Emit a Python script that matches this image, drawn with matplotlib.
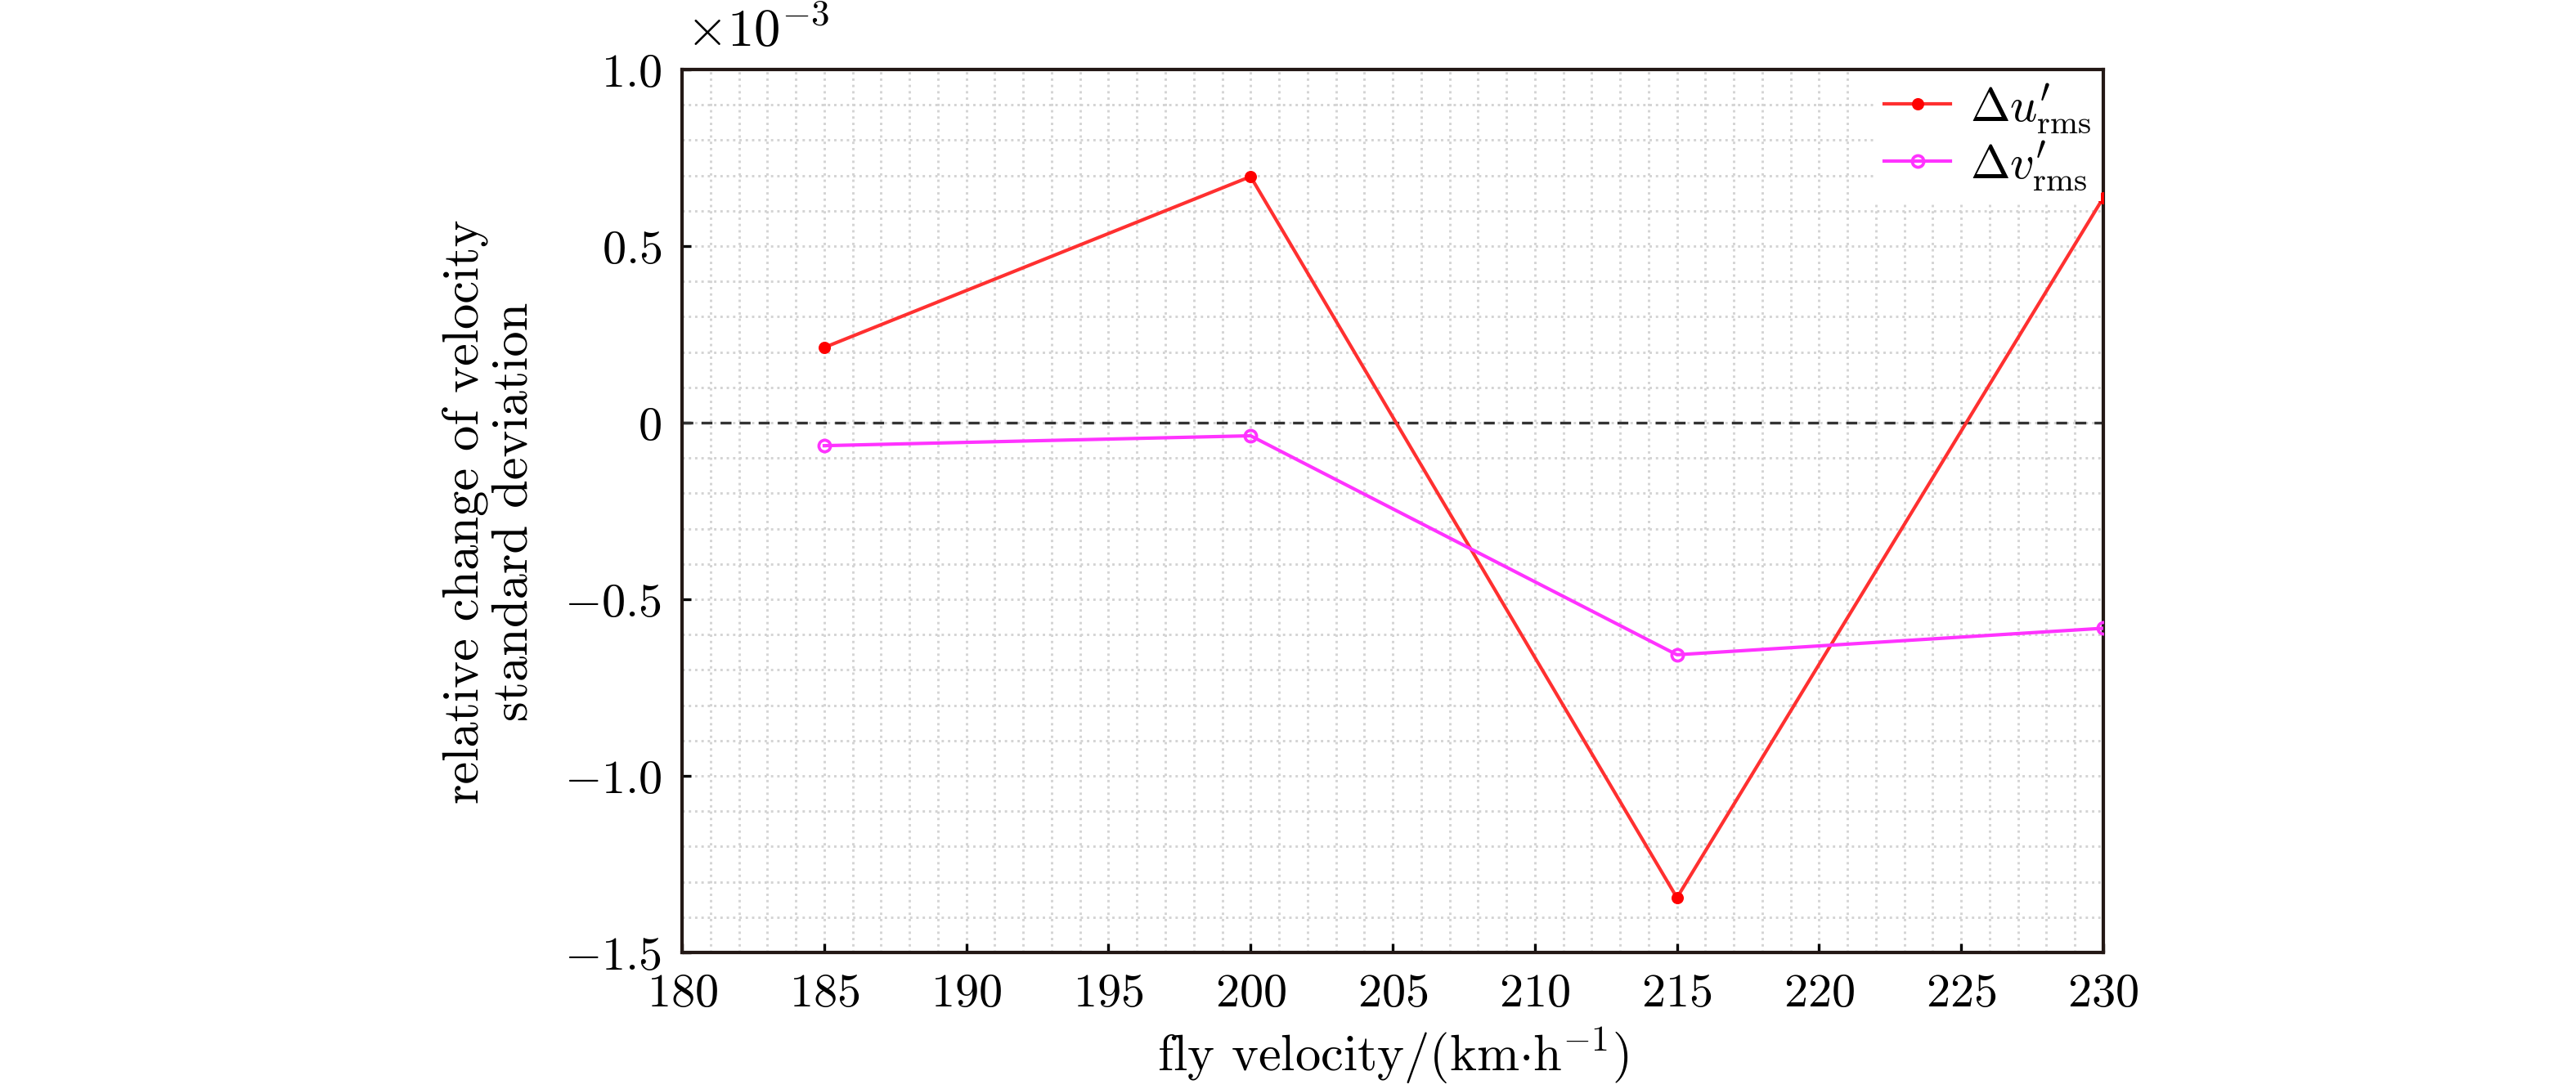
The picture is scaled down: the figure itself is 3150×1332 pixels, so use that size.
import numpy as np
import matplotlib
matplotlib.use("Agg")
import matplotlib.pyplot as plt
from matplotlib.ticker import MultipleLocator, FixedLocator, FixedFormatter

plt.rcParams['font.family'] = 'serif'
plt.rcParams['font.serif'] = ['cmr10', 'DejaVu Serif']
plt.rcParams['mathtext.fontset'] = 'cm'
plt.rcParams['axes.unicode_minus'] = False

# data (values in units of 1e-3)
fly_velocity = [185, 200, 215, 230]
du_rms = [0.213, 0.697, -1.345, 0.637]
dv_rms = [-0.065, -0.037, -0.657, -0.582]

x_ticks = [180, 185, 190, 195, 200, 205, 210, 215, 220, 225, 230]
y_ticks = [-1.5, -1.0, -0.5, 0.0, 0.5, 1.0]
y_tick_labels = [r'$-1.5$', r'$-1.0$', r'$-0.5$', r'$0$', r'$0.5$', r'$1.0$']

fig = plt.figure(figsize=(10.5, 4.443), dpi=300)
ax = fig.add_axes([0.2648, 0.1253, 0.8165 - 0.2648, 0.9355 - 0.1253])

# light dotted grid, every 1 km/h and every 0.1e-3
ax.xaxis.set_minor_locator(MultipleLocator(1))
ax.yaxis.set_minor_locator(MultipleLocator(0.1))
ax.grid(which='both', color='#d4d4d4', linestyle=':', linewidth=0.7)
ax.set_axisbelow(True)

ax.axhline(0, color='#333333', linewidth=0.8, dashes=(4.0, 3.0), zorder=2)

ax.plot(fly_velocity, du_rms, color='#ff3030', linewidth=1.0, marker='o',
        markersize=2.6, markerfacecolor='#ff0000', markeredgecolor='#ff0000',
        label=r'$\Delta u^{\prime}_{\mathrm{rms}}$', zorder=3)
ax.plot(fly_velocity, dv_rms, color='#ff33ff', linewidth=1.0, marker='o',
        markersize=3.4, markerfacecolor='none', markeredgecolor='#ff33ff',
        markeredgewidth=0.9, label=r'$\Delta v^{\prime}_{\mathrm{rms}}$', zorder=3)

ax.set_xlim(180, 230)
ax.set_ylim(-1.5, 1.0)
ax.xaxis.set_major_locator(FixedLocator(x_ticks))
ax.yaxis.set_major_locator(FixedLocator(y_ticks))
ax.yaxis.set_major_formatter(FixedFormatter(y_tick_labels))
ax.set_xticklabels([r'$%d$' % t for t in x_ticks])

ax.tick_params(which='major', direction='in', length=2.6, width=0.8,
               labelsize=14, pad=6, top=False, right=False)
ax.tick_params(which='minor', length=0)
for s in ax.spines.values():
    s.set_linewidth(1.0)
    s.set_color('#231815')

ax.text(0.003, 1.015, r'$\times10^{-3}$', transform=ax.transAxes,
        fontsize=15.5, ha='left', va='bottom')

ax.set_xlabel(r'fly velocity/(km$\cdot$h$^{-1}$)', fontsize=15, labelpad=3)
ax.set_ylabel('relative change of velocity\nstandard deviation', fontsize=15,
              labelpad=8, linespacing=1.1)

leg = ax.legend(loc='upper right', fontsize=14, frameon=True, fancybox=False,
                edgecolor='none', framealpha=1, handlelength=1.4,
                handletextpad=0.4, borderpad=0.2, labelspacing=0.1,
                borderaxespad=0.05)

fig.savefig('out.png', dpi=300)
